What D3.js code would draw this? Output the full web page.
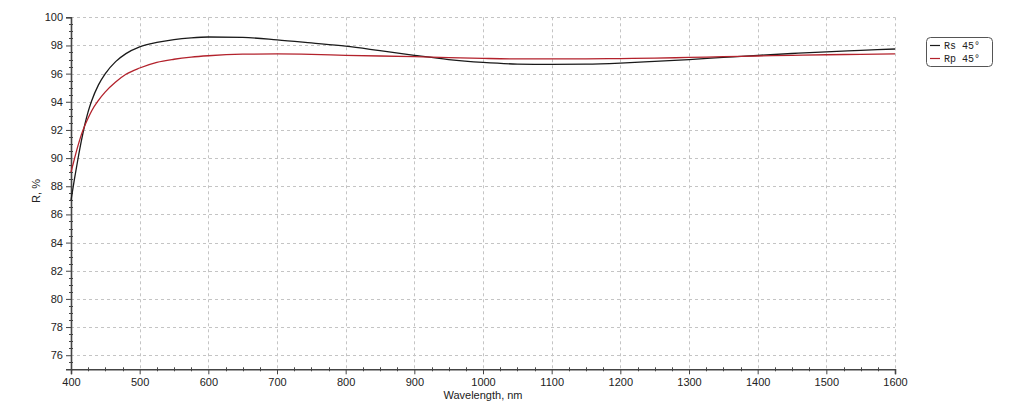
<!DOCTYPE html>
<html>
<head>
<meta charset="utf-8">
<script src="https://cdn.jsdelivr.net/npm/d3@7"></script>
<style>
  body { margin: 0; background: #fff; }
  svg { display: block; font-family: "Liberation Sans", Arial, sans-serif; }
</style>
</head>
<body>
<div id="chartdiv"></div>
<script>
// wavelengths, nm
let wavelengths = [400, 405, 410, 415, 420, 425, 430, 440, 450, 465, 480, 500, 525, 550, 575, 600, 650, 700, 750, 800, 850, 900,
  950, 1000, 1050, 1100, 1150, 1200, 1250, 1300, 1350, 1400, 1450, 1500, 1550, 1600]
// reflectance, %
let rs45 = [87.0, 88.5, 89.9, 91.2, 92.35, 93.3, 94.05, 95.2, 96.0, 96.85, 97.42, 97.9, 98.22, 98.42, 98.54, 98.6, 98.57, 98.4, 98.18, 97.95, 97.63, 97.3,
  97.0, 96.8, 96.68, 96.65, 96.67, 96.75, 96.87, 97.0, 97.15, 97.3, 97.43, 97.55, 97.65, 97.75]
let rp45 = [89.0, 89.95, 90.85, 91.65, 92.3, 92.85, 93.35, 94.1, 94.7, 95.4, 95.95, 96.4, 96.8, 97.02, 97.17, 97.27, 97.38, 97.4, 97.37, 97.3, 97.25, 97.2,
  97.13, 97.08, 97.05, 97.05, 97.05, 97.07, 97.1, 97.15, 97.2, 97.25, 97.3, 97.34, 97.37, 97.4]
let seriesNames = ["Rs 45°", "Rp 45°"]
let seriesColors = ["#1a1a1a", "#b3222c"]
let xTicks = [400, 500, 600, 700, 800, 900, 1000, 1100, 1200, 1300, 1400, 1500, 1600]
let yTicks = [76, 78, 80, 82, 84, 86, 88, 90, 92, 94, 96, 98, 100]

let width = 1024
let height = 417
let plotLeft = 71, plotRight = 895, plotTop = 17.3, plotBottom = 369.3

function drawChart(){
  let svg = d3.select('#chartdiv')
    .append('svg')
    .attr("width", width)
    .attr("height", height)

  let xscale = d3.scaleLinear().domain([400, 1600]).range([plotLeft, plotRight])
  let yscale = d3.scaleLinear().domain([75, 100]).range([plotBottom, plotTop])

  // grid
  let grid = svg.append("g")
    .attr("stroke", "#c4c4c4")
    .attr("stroke-width", 1)
    .attr("stroke-dasharray", "3,3")
  grid.selectAll(".vg").data(xTicks.slice(1)).enter().append("line")
    .attr("x1", d => Math.round(xscale(d)) + 0.5).attr("x2", d => Math.round(xscale(d)) + 0.5)
    .attr("y1", plotTop).attr("y2", plotBottom)
  grid.selectAll(".hg").data(yTicks).enter().append("line")
    .attr("x1", plotLeft).attr("x2", plotRight)
    .attr("y1", d => Math.round(yscale(d)) + 0.5).attr("y2", d => Math.round(yscale(d)) + 0.5)

  // minor ticks
  let xMinor = d3.range(400, 1601, 25).filter(d => d % 100 !== 0)
  let yMinor = d3.range(75, 100.01, 0.5).filter(d => d % 2 !== 0)
  let minor = svg.append("g").attr("stroke", "#444").attr("stroke-width", 1)
  minor.selectAll(".xm").data(xMinor).enter().append("line")
    .attr("x1", d => Math.round(xscale(d)) + 0.5).attr("x2", d => Math.round(xscale(d)) + 0.5)
    .attr("y1", plotBottom - 2).attr("y2", plotBottom + 2)
  minor.selectAll(".ym").data(yMinor).enter().append("line")
    .attr("x1", plotLeft - 2).attr("x2", plotLeft + 2)
    .attr("y1", d => Math.round(yscale(d)) + 0.5).attr("y2", d => Math.round(yscale(d)) + 0.5)

  // axes
  let x_axis = d3.axisBottom(xscale).tickValues(xTicks).tickFormat(d3.format("d")).tickSize(5).tickPadding(4)
  let gx = svg.append("g")
    .attr("transform", `translate(0, ${plotBottom})`)
    .call(x_axis)
  let y_axis = d3.axisLeft(yscale).tickValues(yTicks).tickFormat(d3.format("d")).tickSize(5).tickPadding(3)
  let gy = svg.append("g")
    .attr("transform", `translate(${plotLeft}, 0)`)
    .call(y_axis)
  for (let g of [gx, gy]) {
    g.select(".domain").attr("stroke", "#444").attr("stroke-width", 1.6)
    g.selectAll(".tick line").attr("stroke", "#444")
    g.selectAll(".tick text")
      .attr("fill", "#222")
      .style("font-size", "11px")
      .style("font-family", "'Liberation Sans', Arial, sans-serif")
  }

  // axis titles
  svg.append("text")
    .attr("x", 483).attr("y", 399)
    .attr("text-anchor", "middle")
    .style("font-size", "11px").attr("fill", "#222")
    .text("Wavelength, nm")
  svg.append("text")
    .attr("transform", "translate(40, 191) rotate(-90)")
    .attr("text-anchor", "middle")
    .style("font-size", "11px").attr("fill", "#222")
    .text("R, %")

  // curves
  let line = d3.line()
    .x((d, i) => xscale(wavelengths[i]))
    .y(d => yscale(d))
    .curve(d3.curveMonotoneX)
  let allSeries = [rs45, rp45]
  allSeries.forEach((values, k) => {
    svg.append("path")
      .datum(values)
      .attr("d", line)
      .attr("fill", "none")
      .attr("stroke", seriesColors[k])
      .attr("stroke-width", 1.3)
  })

  // legend
  let lg = svg.append("g")
  lg.append("rect")
    .attr("x", 926.5).attr("y", 37.5)
    .attr("width", 66).attr("height", 29)
    .attr("rx", 4)
    .attr("fill", "#fff")
    .attr("stroke", "#555")
  seriesNames.forEach((name, k) => {
    let yy = 45.5 + k * 13
    lg.append("line")
      .attr("x1", 930).attr("x2", 940)
      .attr("y1", yy).attr("y2", yy)
      .attr("stroke", seriesColors[k]).attr("stroke-width", 1.2)
    lg.append("text")
      .attr("x", 944).attr("y", yy + 3.5)
      .style("font-family", "'Liberation Mono', 'Courier New', monospace")
      .style("font-size", "10px")
      .attr("fill", "#222")
      .text(name)
  })
}
drawChart()
</script>
</body>
</html>
